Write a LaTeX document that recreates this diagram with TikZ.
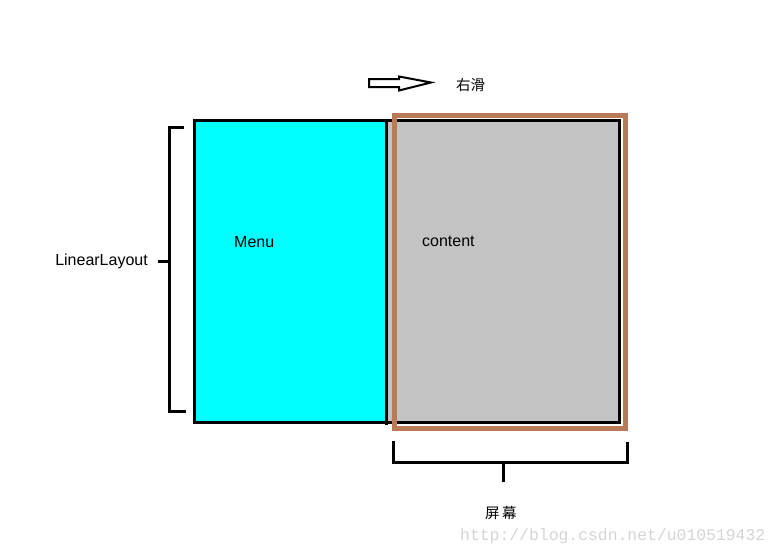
\documentclass[tikz,border=0pt]{standalone}
\usepackage{fontspec}
\setmainfont{Liberation Sans}
\newfontfamily\cjk{Noto Sans CJK SC}
\newfontfamily\wmfont{Liberation Mono}
\definecolor{cyanfill}{HTML}{00FFFF}
\definecolor{grayfill}{HTML}{C3C3C3}
\definecolor{brownline}{HTML}{B97A57}
\definecolor{wmgray}{HTML}{D4D4D4}
\begin{document}
\begin{tikzpicture}[x=1pt,y=-1pt,
  blk/.style={draw=black,line width=3pt,outer sep=0pt,inner sep=0pt},
  lbl/.style={inner sep=0pt,font=\fontsize{16}{17}\selectfont},
  cjklbl/.style={inner sep=0pt,font=\cjk\fontsize{14.5}{15}\selectfont}]
\useasboundingbox (0,0) rectangle (779,557);
% menu and content
\node[blk,fill=cyanfill,minimum width=192pt,minimum height=301.5pt,anchor=north west] (menu) at (194.5,120.5) {};
\node[blk,fill=grayfill,minimum width=233pt,minimum height=301.5pt,anchor=north west] (content) at (386.5,120.5) {};
\draw[line width=3pt] (content.north west) -- ++(0,304.5) coordinate (divend);
% screen frame
\node[draw=brownline,line width=5pt,outer sep=0pt,inner sep=0pt,minimum width=231.5pt,minimum height=312.5pt,anchor=north west] (screen) at (394,115.5) {};
% labels
\node[lbl,anchor=west] (menulbl) at (234,242) {Menu};
\node[lbl,anchor=west] (contentlbl) at (422,241) {content};
\node[lbl,anchor=east] (lllbl) at (148,261) {LinearLayout};
\node[cjklbl,anchor=west] (slide) at (456,85) {右滑};
\node[cjklbl,anchor=west] (scr) at (485,513) {屏\,幕};
\node[inner sep=0pt,anchor=west,text=wmgray,font=\wmfont\fontsize{16.4}{17}\selectfont] (wm) at (460,536) {http://blog.csdn.net/u010519432};
% left bracket
\coordinate (lbt) at (184,127.5);
\coordinate (lbb) at (186,411);
\draw[line width=3pt,line join=miter] (lbt) -- (169.5,127.5) -- (169.5,411) -- (lbb);
\coordinate (ltick) at (169.5,261);
\draw[line width=3pt] (ltick) -- (lllbl.east -| 158,0);
% bottom bracket
\coordinate (bbl) at (393,441);
\coordinate (bbr) at (627.5,442);
\draw[line width=3pt,line join=miter] (bbl) -- (393,462) -- (627.5,462) -- (bbr);
\coordinate (btick) at (503,462);
\draw[line width=3pt] (btick) -- (503,482);
% hollow arrow
\draw[line width=2pt,line join=miter] (369,79) -- (399,79) -- (399,76.5) -- (431,82.5) -- (399,90.5) -- (399,87) -- (369,87) -- cycle;
\end{tikzpicture}
\end{document}
